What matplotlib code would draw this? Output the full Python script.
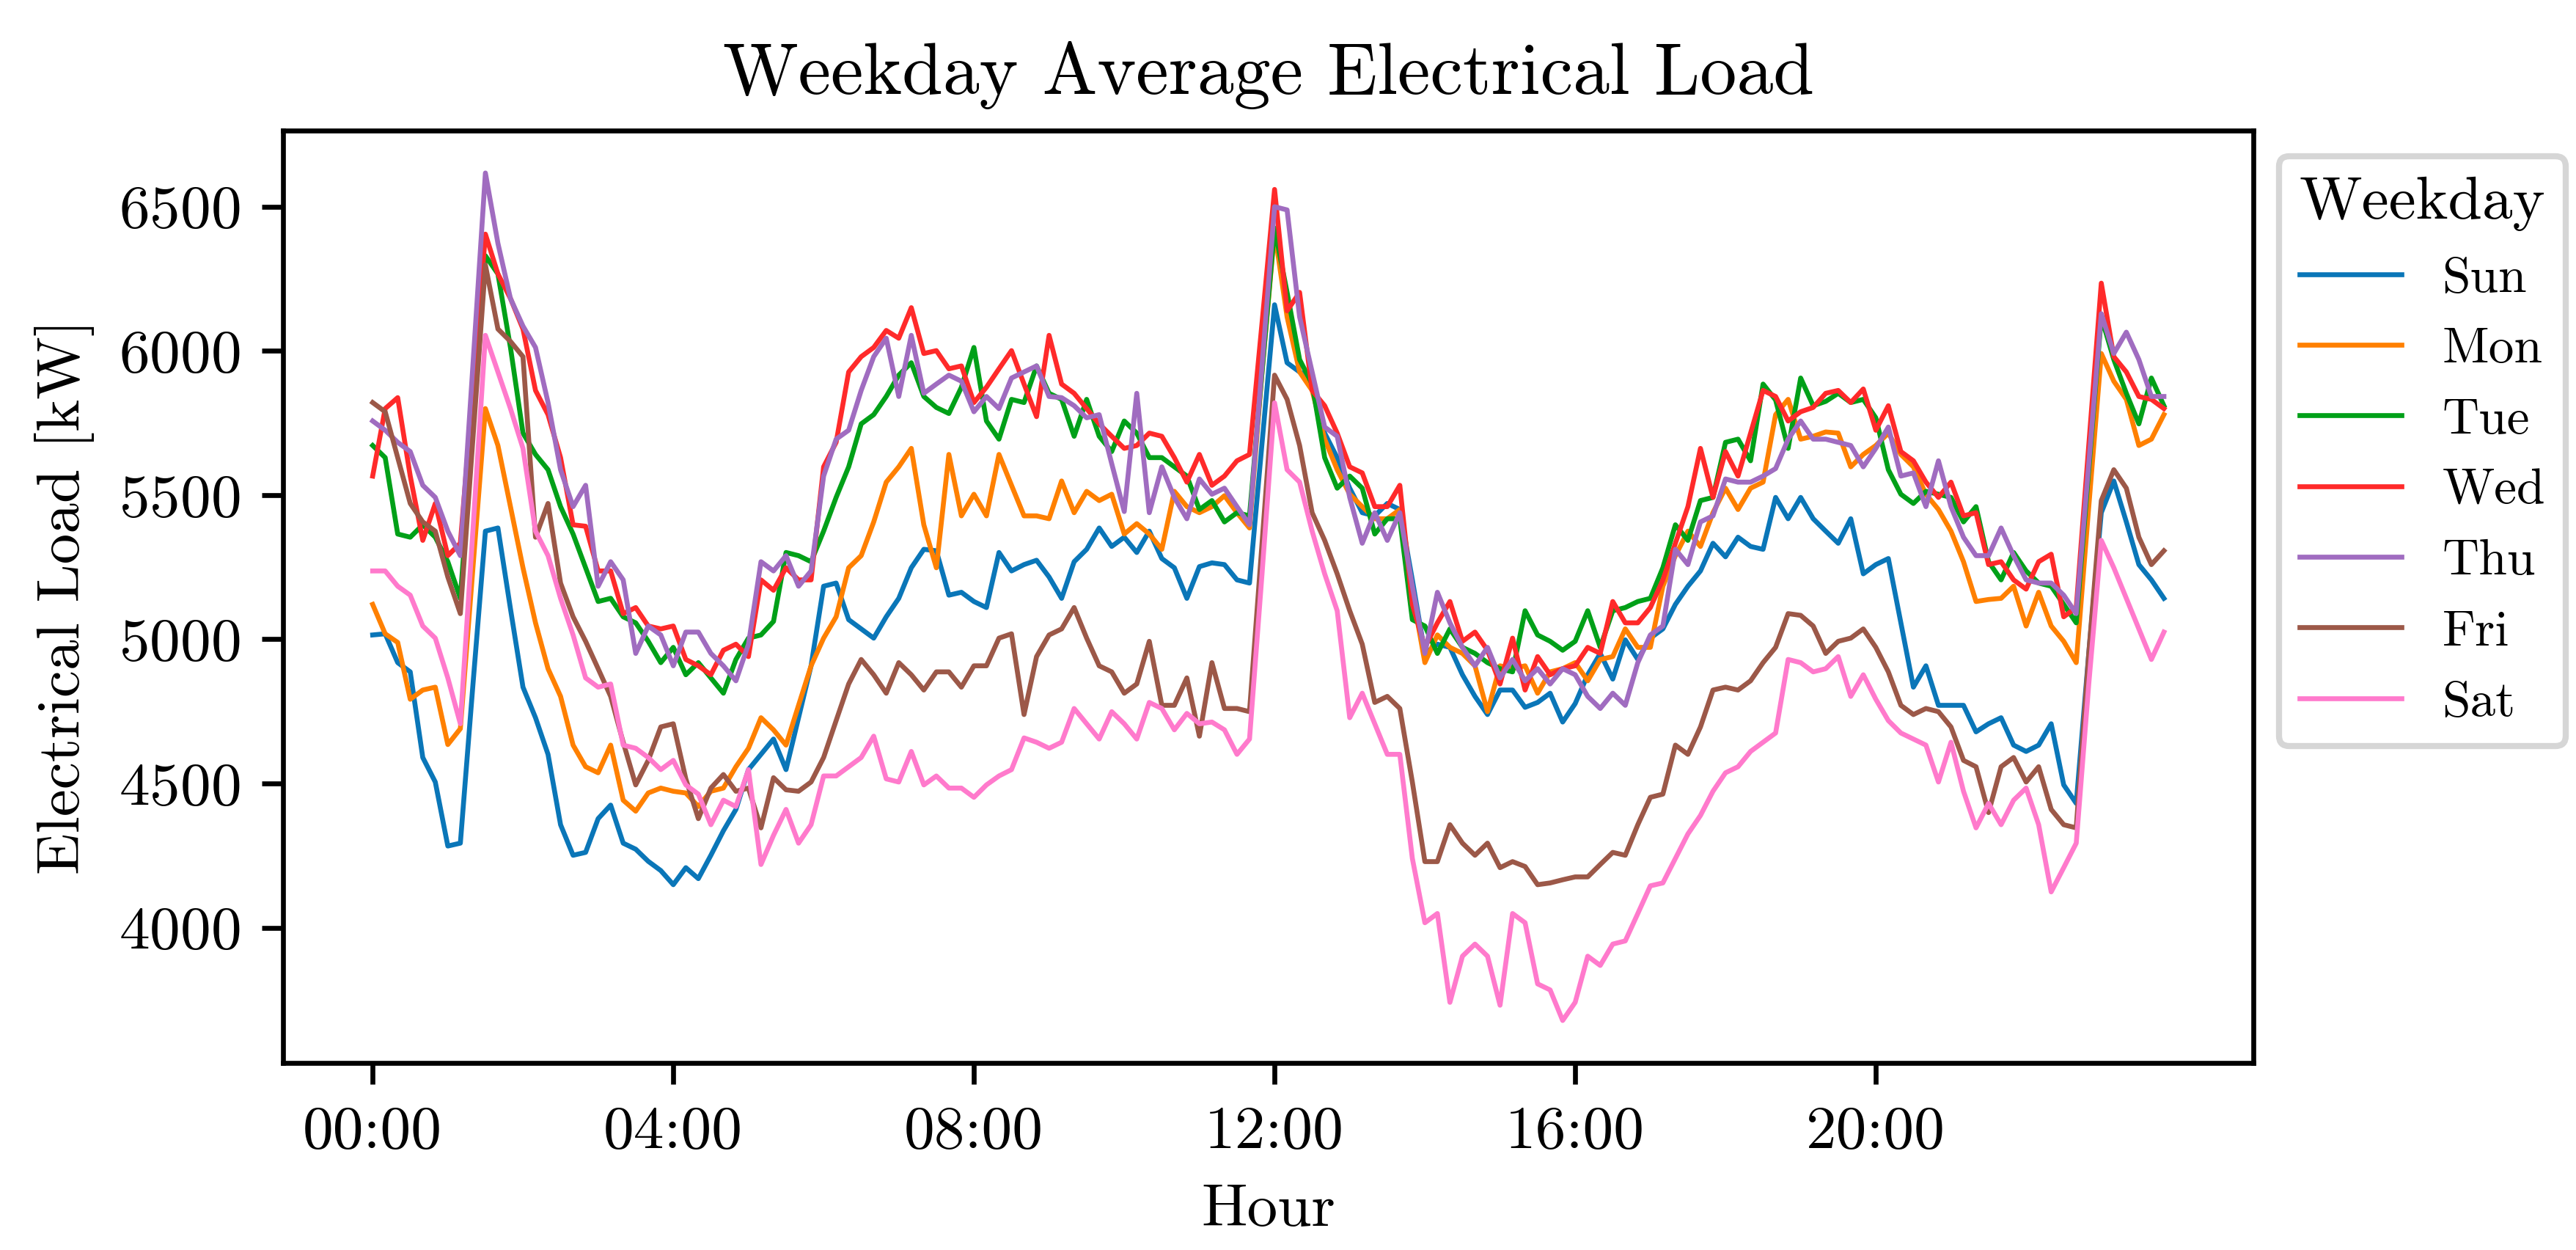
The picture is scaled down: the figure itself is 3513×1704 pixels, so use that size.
import numpy as np
import matplotlib
matplotlib.use("Agg")
import matplotlib.pyplot as plt

plt.rcParams['font.family'] = 'serif'
plt.rcParams['font.serif'] = ['cmr10']
plt.rcParams['mathtext.fontset'] = 'cm'
plt.rcParams['axes.formatter.use_mathtext'] = True
plt.rcParams['axes.unicode_minus'] = False
plt.rcParams['font.size'] = 10

# 10-minute averages, 00:00 .. 23:50 (kW)
sun = [5015, 5019, 4919, 4887, 4590, 4505, 4283, 4293, 4840, 5375, 5386, 5106, 4834,
       4728, 4601, 4357, 4251, 4261, 4378, 4425, 4293, 4272, 4230, 4198, 4149, 4208, 4170,
       4251, 4336, 4410, 4548, 4601, 4654, 4548,
       4728, 4908, 5184, 5195, 5068, 5036, 5004, 5078, 5142, 5248, 5312, 5307, 5153, 5163,
       5131, 5110, 5301, 5237, 5259, 5274, 5216, 5142, 5269, 5312, 5386, 5322, 5354, 5301,
       5375, 5280, 5248, 5142, 5252, 5265, 5259, 5206, 5195, 5680, 6160,
       5959, 5927, 5906, 5715, 5630, 5524, 5439, 5428, 5471, 5450, 5206, 4951, 4983, 4972,
       4877, 4802, 4739, 4824, 4824, 4764, 4781, 4813, 4713, 4777, 4877, 4951, 4862, 4998,
       4930, 5004, 5036, 5121, 5184, 5237, 5333, 5286, 5354, 5322, 5312, 5492,
       5418, 5492, 5418, 5375, 5333, 5418, 5227, 5259, 5280, 5057, 4834, 4908, 4771, 4771,
       4771, 4679, 4707, 4728, 4633, 4611, 4633, 4707, 4495, 4431, 4951, 5439, 5549, 5407,
       5259, 5206, 5142]
mon = [5121, 5019, 4989, 4792, 4824, 4834, 4635, 4690, 5244, 5800, 5672, 5460, 5248,
       5057, 4898, 4802, 4633, 4558, 4537, 4633, 4442, 4404, 4467, 4484, 4473, 4467, 4420,
       4473, 4484, 4558, 4622, 4728, 4686, 4633,
       4771, 4908, 5004, 5078, 5248, 5290, 5407, 5545, 5598, 5662, 5397, 5248, 5641, 5428,
       5503, 5428, 5641, 5534, 5428, 5428, 5418, 5549, 5439, 5513, 5481, 5503, 5365, 5401,
       5365, 5312, 5513, 5460, 5439, 5460, 5498, 5439, 5386, 5927, 6415,
       6118, 5927, 5863, 5694, 5588, 5503, 5460, 5418, 5418, 5450, 5163, 4919, 5015, 4972,
       4951, 4908, 4749, 4908, 4898, 4908, 4813, 4887, 4898, 4919, 4856, 4930, 4940, 5036,
       4972, 4972, 5184, 5290, 5375, 5322, 5439, 5524, 5450, 5524, 5545, 5779,
       5832, 5694, 5704, 5719, 5715, 5598, 5641, 5672, 5715, 5641, 5598, 5503, 5450, 5375,
       5269, 5131, 5138, 5142, 5184, 5046, 5163, 5046, 4993, 4919, 5460, 5991, 5895, 5832,
       5672, 5694, 5779]
tue = [5672, 5630, 5365, 5354, 5397, 5354, 5269, 5142, 5736, 6330, 6267, 6012, 5715,
       5641, 5588, 5460, 5365, 5248, 5131, 5142, 5078, 5057, 4993, 4919, 4972, 4877, 4919,
       4866, 4813, 4930, 5004, 5015, 5062, 5301,
       5290, 5269, 5375, 5492, 5598, 5747, 5779, 5842, 5916, 5959, 5842, 5804, 5783, 5874,
       6012, 5757, 5694, 5832, 5821, 5948, 5853, 5832, 5704, 5832, 5704, 5651, 5757, 5715,
       5630, 5630, 5598, 5566, 5450, 5481, 5407, 5439, 5428, 5927, 6426,
       6203, 5970, 5885, 5630, 5524, 5566, 5524, 5365, 5418, 5418, 5068, 5046, 4951, 5036,
       4972, 4951, 4919, 4898, 4887, 5099, 5015, 4993, 4962, 4993, 5099, 4972, 5099, 5110,
       5131, 5142, 5248, 5397, 5343, 5481, 5492, 5683, 5694, 5619, 5885, 5830,
       5662, 5906, 5810, 5825, 5853, 5821, 5832, 5768, 5588, 5503, 5471, 5513, 5503, 5492,
       5407, 5460, 5269, 5206, 5301, 5237, 5195, 5184, 5121, 5057, 5588, 6118, 5970, 5853,
       5747, 5906, 5810]
wed = [5566, 5800, 5838, 5566, 5343, 5471, 5290, 5333, 5863, 6405, 6267, 6182, 6076,
       5863, 5779, 5630, 5397, 5392, 5237, 5237, 5089, 5110, 5046, 5036, 5046, 4930, 4908,
       4877, 4962, 4983, 4940, 5206, 5170, 5248,
       5206, 5206, 5598, 5683, 5927, 5980, 6012, 6071, 6044, 6150, 5991, 6001, 5938, 5948,
       5821, 5874, 5938, 6001, 5885, 5772, 6054, 5885, 5853, 5800, 5747, 5704, 5662, 5672,
       5715, 5704, 5630, 5545, 5641, 5534, 5566, 5619, 5641, 6097, 6560,
       6139, 6203, 5863, 5810, 5715, 5598, 5577, 5460, 5460, 5534, 5121, 4972, 5057, 5131,
       4993, 5025, 4962, 4845, 5004, 4824, 4940, 4877, 4898, 4908, 4972, 4951, 5131, 5057,
       5057, 5110, 5206, 5333, 5460, 5662, 5492, 5651, 5566, 5715, 5863, 5842,
       5757, 5789, 5804, 5853, 5863, 5821, 5868, 5725, 5810, 5651, 5619, 5545, 5492, 5545,
       5428, 5439, 5259, 5269, 5206, 5174, 5269, 5295, 5078, 5110, 5672, 6235, 5980, 5927,
       5842, 5832, 5800]
thu = [5757, 5725, 5683, 5651, 5534, 5492, 5375, 5290, 5948, 6617, 6373, 6182, 6086,
       6012, 5821, 5588, 5460, 5534, 5184, 5269, 5206, 4951, 5046, 5015, 4908, 5025, 5025,
       4951, 4908, 4856, 4983, 5269, 5237, 5290,
       5184, 5237, 5566, 5694, 5725, 5863, 5980, 6044, 5842, 6054, 5853, 5885, 5916, 5895,
       5789, 5842, 5800, 5906, 5927, 5948, 5842, 5838, 5810, 5768, 5779, 5609, 5443, 5853,
       5439, 5598, 5492, 5418, 5556, 5503, 5524, 5460, 5397, 5948, 6500,
       6489, 6118, 5927, 5736, 5704, 5492, 5333, 5439, 5343, 5439, 5184, 4951, 5163, 5057,
       4972, 4908, 4972, 4866, 4930, 4856, 4898, 4845, 4898, 4877, 4802, 4760, 4813, 4771,
       4919, 5015, 5046, 5312, 5259, 5407, 5428, 5556, 5545, 5545, 5566, 5592,
       5694, 5757, 5694, 5694, 5683, 5672, 5598, 5662, 5736, 5566, 5577, 5460, 5619, 5460,
       5354, 5290, 5290, 5386, 5290, 5206, 5195, 5195, 5153, 5089, 5609, 6129, 5991, 6065,
       5970, 5842, 5842]
fri = [5821, 5789, 5630, 5471, 5407, 5375, 5216, 5089, 5694, 6298, 6076, 6033, 5980,
       5354, 5471, 5195, 5078, 4993, 4898, 4802, 4643, 4495, 4580, 4696, 4707, 4516, 4378,
       4484, 4531, 4473, 4484, 4346, 4520, 4478,
       4473, 4505, 4590, 4718, 4845, 4930, 4877, 4813, 4919, 4877, 4824, 4887, 4887, 4834,
       4908, 4908, 5004, 5019, 4739, 4940, 5015, 5036, 5110, 5004, 4908, 4887, 4813, 4845,
       4993, 4771, 4771, 4866, 4664, 4919, 4760, 4760, 4749, 5333, 5916,
       5832, 5672, 5439, 5343, 5227, 5099, 4983, 4781, 4802, 4760, 4505, 4229, 4229, 4357,
       4293, 4251, 4293, 4208, 4229, 4212, 4149, 4155, 4166, 4176, 4176, 4219, 4261, 4251,
       4357, 4452, 4463, 4633, 4601, 4696, 4824, 4834, 4824, 4856, 4919, 4972,
       5089, 5083, 5046, 4951, 4993, 5004, 5036, 4972, 4887, 4771, 4739, 4760, 4749, 4696,
       4580, 4558, 4399, 4558, 4590, 4505, 4558, 4410, 4357, 4346, 4951, 5481, 5588, 5524,
       5354, 5259, 5307]
sat = [5237, 5237, 5184, 5153, 5046, 5004, 4866, 4707, 5375, 6054, 5927, 5800, 5662,
       5375, 5290, 5142, 5015, 4866, 4834, 4845, 4633, 4622, 4590, 4548, 4580, 4495, 4463,
       4357, 4442, 4420, 4548, 4219, 4320, 4410,
       4293, 4357, 4526, 4526, 4558, 4590, 4664, 4516, 4505, 4611, 4495, 4526, 4484, 4484,
       4452, 4495, 4526, 4548, 4658, 4643, 4622, 4643, 4760, 4707, 4654, 4749, 4707, 4654,
       4781, 4760, 4686, 4743, 4707, 4713, 4686, 4601, 4654, 5227, 5820,
       5588, 5545, 5375, 5227, 5099, 4728, 4813, 4707, 4601, 4601, 4240, 4017, 4049, 3741,
       3901, 3943, 3901, 3731, 4049, 4017, 3805, 3784, 3678, 3741, 3901, 3869, 3943, 3954,
       4049, 4145, 4155, 4240, 4325, 4389, 4473, 4537, 4558, 4611, 4643, 4675,
       4930, 4919, 4887, 4898, 4940, 4802, 4877, 4792, 4718, 4675, 4654, 4633, 4505, 4643,
       4473, 4346, 4431, 4357, 4442, 4484, 4357, 4124, 4208, 4293, 4845, 5343, 5248, 5142,
       5036, 4930, 5025]

days = ["Sun", "Mon", "Tue", "Wed", "Thu", "Fri", "Sat"]
colors = ["#0a76b8", "#ff8000", "#00a018", "#ff2a2a", "#a06cc0", "#9c5848", "#ff7acc"]
tick_hours = [0, 4, 8, 12, 16, 20]
tick_labels = ["00:00", "04:00", "08:00", "12:00", "16:00", "20:00"]

hours = np.arange(len(sun)) / 6.0

fig = plt.figure(figsize=(3513 / 600, 1704 / 600), dpi=600)
fig.subplots_adjust(left=0.1099, right=0.8748, bottom=0.1497, top=0.8955)
ax = fig.add_subplot(111)

for name, values, c in zip(days, [sun, mon, tue, wed, thu, fri, sat], colors):
    ax.plot(hours, values, linewidth=0.8, color=c, label=name)

ax.set_xticks(tick_hours)
ax.set_xticklabels(tick_labels)
ax.set_title("Weekday Average Electrical Load")
ax.set_xlabel("Hour")
ax.set_ylabel("Electrical Load [kW]")
ax.legend(title="Weekday", loc="upper left", bbox_to_anchor=(1, 1),
          fontsize="small", title_fontsize=10)

fig.savefig("out.png", dpi=600)
